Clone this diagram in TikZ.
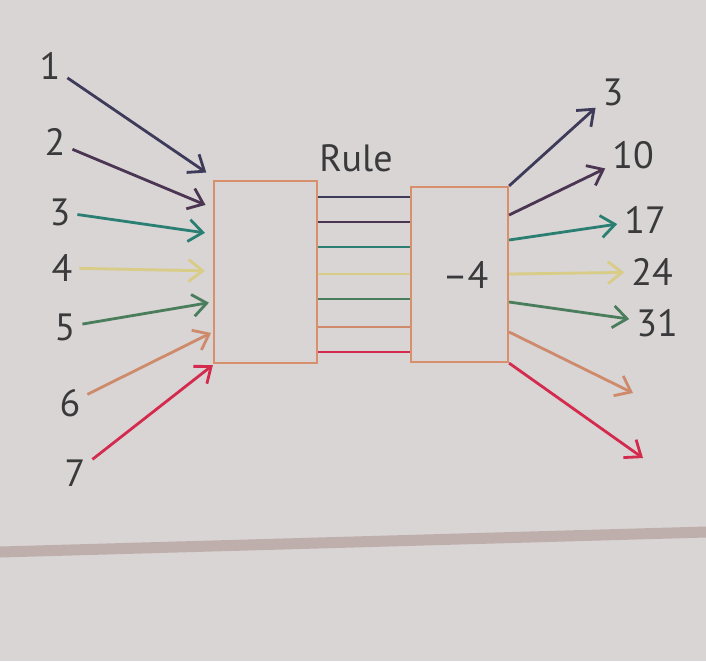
\documentclass[tikz,border=0pt]{standalone}
\usepackage{fontspec}
\setmainfont{PT Sans}
\usepackage{tikz}
\usetikzlibrary{arrows.meta}

\definecolor{paper}{HTML}{D8D5D4}
\definecolor{fold}{HTML}{BEAFAD}
\definecolor{ink}{HTML}{3A3A3C}
\definecolor{boxline}{HTML}{D8906C}
\definecolor{cone}{HTML}{3E3A5A}
\definecolor{ctwo}{HTML}{4B3552}
\definecolor{cthree}{HTML}{2A7F72}
\definecolor{cfour}{HTML}{D9CC86}
\definecolor{cfive}{HTML}{4A7D5C}
\definecolor{csix}{HTML}{CF8A6C}
\definecolor{cseven}{HTML}{D42A4E}

\tikzset{
  machine/.style={draw=boxline, line width=1.1pt, inner sep=0pt},
  num/.style={text=ink, font=\fontsize{19}{22}\selectfont},
  feed/.style={->, line width=1.4pt},
  link/.style={line width=1.3pt}
}

\begin{document}
\begin{tikzpicture}[x=0.5pt, y=-0.5pt, > = {Straight Barb[length=7pt, width=11pt]}]
\fill[paper] (0,0) rectangle (706,661);
\useasboundingbox (0,0) rectangle (706,661);
\draw[fold, line width=5.5pt] (0,552) -- (706,532);

\node (inbox) [machine, minimum width=51.5pt, minimum height=91pt] at (265.5,272) {};
\node (outbox) [machine, num, minimum width=48.5pt, minimum height=87.5pt] at (459.5,274.5) {\kern6pt–4};
\node (rule) [num] at (356,158) {Rule};

\node (i1) [num] at (50,66) {1};
\node (i2) [num] at (55,142) {2};
\node (i3) [num] at (60,212) {3};
\node (i4) [num] at (62,268) {4};
\node (i5) [num] at (65,327) {5};
\node (i6) [num] at (70,403) {6};
\node (i7) [num] at (75,473) {7};

\node (o1) [num] at (613,92) {3};
\node (o2) [num] at (633,155) {10};
\node (o3) [num] at (645,220) {17};
\node (o4) [num] at (652,272) {24};
\node (o5) [num] at (657,323) {31};
\coordinate (o6) at (633,393);
\coordinate (o7) at (643,458);

\draw[feed, cone, shorten >=4pt] (i1) -- (inbox.west |- 0,177);
\draw[feed, ctwo, shorten >=4pt] (i2) -- (inbox.west |- 0,208);
\draw[feed, cthree, shorten >=4pt] (i3) -- (inbox.west |- 0,234);
\draw[feed, cfour, shorten >=4pt] (i4) -- (inbox.west |- 0,271);
\draw[feed, cfive, shorten >=2pt] (i5) -- (inbox.west |- 0,302);
\draw[feed, csix, shorten >=1pt] (i6) -- (inbox.west |- 0,332);
\draw[feed, cseven] (i7) -- (inbox.west |- 0,365);

\draw[link, cone] (inbox.east |- 0,197) -- (outbox.west |- 0,197);
\draw[link, ctwo] (inbox.east |- 0,222) -- (outbox.west |- 0,222);
\draw[link, cthree] (inbox.east |- 0,247) -- (outbox.west |- 0,247);
\draw[link, cfour] (inbox.east |- 0,274) -- (outbox.west |- 0,274);
\draw[link, cfive] (inbox.east |- 0,299) -- (outbox.west |- 0,299);
\draw[link, csix] (inbox.east |- 0,327) -- (outbox.west |- 0,327);
\draw[link, cseven] (inbox.east |- 0,352) -- (outbox.west |- 0,352);

\draw[feed, cone] (outbox.north east) -- (o1);
\draw[feed, ctwo] (outbox.east |- 0,215) -- (o2);
\draw[feed, cthree] (outbox.east |- 0,240) -- (o3);
\draw[feed, cfour] (outbox.east |- 0,274) -- (o4);
\draw[feed, cfive] (outbox.east |- 0,302) -- (o5);
\draw[feed, csix] (outbox.east |- 0,332) -- (o6);
\draw[feed, cseven] (outbox.south east) -- (o7);
\end{tikzpicture}
\end{document}
